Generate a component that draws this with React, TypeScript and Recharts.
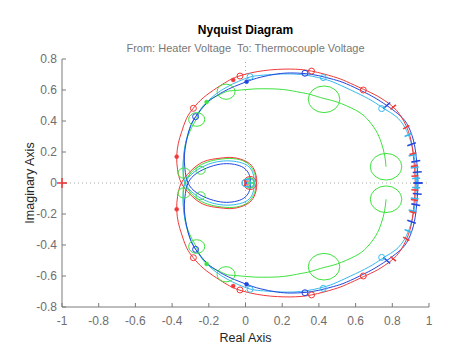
import { ComposedChart, Line, Scatter, XAxis, YAxis, ReferenceLine } from "recharts";

type Pt = { x: number; y: number };
type Blob = { x: number; y: number; r: number };

// Positive-frequency branch of each estimated model (Re, Im).
// The negative-frequency branch is its complex conjugate.
const redBranch: Pt[] = [
  { x: 0.925, y: 0 }, { x: 0.922, y: -0.085 }, { x: 0.915, y: -0.17 }, { x: 0.897, y: -0.3 },
  { x: 0.85, y: -0.425 }, { x: 0.795, y: -0.5 }, { x: 0.72, y: -0.56 }, { x: 0.642, y: -0.605 },
  { x: 0.55, y: -0.655 }, { x: 0.479, y: -0.686 }, { x: 0.36, y: -0.722 }, { x: 0.243, y: -0.735 },
  { x: 0.1, y: -0.725 }, { x: -0.03, y: -0.692 }, { x: -0.1, y: -0.655 }, { x: -0.157, y: -0.613 },
  { x: -0.23, y: -0.55 }, { x: -0.284, y: -0.483 }, { x: -0.322, y: -0.415 }, { x: -0.348, y: -0.33 },
  { x: -0.366, y: -0.256 }, { x: -0.375, y: -0.17 }, { x: -0.37, y: -0.085 }, { x: -0.35, y: 0 },
  { x: -0.302, y: 0.073 }, { x: -0.23, y: 0.137 }, { x: -0.139, y: 0.16 }, { x: -0.066, y: 0.164 },
  { x: 0.007, y: 0.137 }, { x: 0.048, y: 0.084 }, { x: 0.061, y: 0.01 }, { x: 0.045, y: -0.035 },
  { x: 0.015, y: -0.04 }, { x: -0.005, y: -0.02 }, { x: 0.002, y: 0.008 }, { x: 0.02, y: 0.012 },
];

const blueBranch: Pt[] = [
  { x: 0.94, y: 0 }, { x: 0.937, y: -0.085 }, { x: 0.93, y: -0.17 }, { x: 0.915, y: -0.277 },
  { x: 0.878, y: -0.385 }, { x: 0.83, y: -0.447 }, { x: 0.77, y: -0.5 }, { x: 0.7, y: -0.553 },
  { x: 0.64, y: -0.59 }, { x: 0.55, y: -0.64 }, { x: 0.48, y: -0.668 }, { x: 0.4, y: -0.692 },
  { x: 0.324, y: -0.706 }, { x: 0.245, y: -0.71 }, { x: 0.17, y: -0.703 }, { x: 0.08, y: -0.682 },
  { x: 0.006, y: -0.654 }, { x: -0.06, y: -0.623 }, { x: -0.121, y: -0.589 }, { x: -0.17, y: -0.553 },
  { x: -0.212, y: -0.514 }, { x: -0.272, y: -0.428 }, { x: -0.305, y: -0.35 }, { x: -0.322, y: -0.27 },
  { x: -0.333, y: -0.18 }, { x: -0.33, y: -0.09 }, { x: -0.313, y: 0 }, { x: -0.266, y: 0.063 },
  { x: -0.193, y: 0.105 }, { x: -0.12, y: 0.124 }, { x: -0.06, y: 0.12 }, { x: -0.012, y: 0.1 },
  { x: 0.018, y: 0.06 }, { x: 0.027, y: 0.01 }, { x: 0.02, y: -0.02 }, { x: 0.005, y: -0.02 },
  { x: -0.003, y: -0.005 }, { x: 0.008, y: 0.005 },
];

const cyanBranch: Pt[] = [
  { x: 0.932, y: 0 }, { x: 0.928, y: -0.09 }, { x: 0.918, y: -0.18 }, { x: 0.9, y: -0.27 },
  { x: 0.868, y: -0.36 }, { x: 0.82, y: -0.43 }, { x: 0.76, y: -0.476 }, { x: 0.69, y: -0.53 },
  { x: 0.6, y: -0.585 }, { x: 0.5, y: -0.64 }, { x: 0.424, y: -0.672 }, { x: 0.3, y: -0.7 },
  { x: 0.17, y: -0.702 }, { x: 0.08, y: -0.694 }, { x: 0.025, y: -0.684 }, { x: -0.04, y: -0.655 },
  { x: -0.1, y: -0.62 }, { x: -0.16, y: -0.575 }, { x: -0.212, y: -0.52 }, { x: -0.26, y: -0.45 },
  { x: -0.297, y: -0.37 }, { x: -0.322, y: -0.28 }, { x: -0.337, y: -0.18 }, { x: -0.34, y: -0.09 },
  { x: -0.328, y: 0 }, { x: -0.28, y: 0.07 }, { x: -0.2, y: 0.122 }, { x: -0.12, y: 0.142 },
  { x: -0.05, y: 0.138 }, { x: 0.01, y: 0.113 }, { x: 0.04, y: 0.065 }, { x: 0.047, y: 0.01 },
  { x: 0.035, y: -0.028 }, { x: 0.01, y: -0.03 }, { x: 0, y: -0.01 }, { x: 0.015, y: 0.005 },
];

const greenBranch: Pt[] = [
  { x: 0.766, y: -0.105 }, { x: 0.758, y: -0.18 }, { x: 0.74, y: -0.26 }, { x: 0.71, y: -0.34 },
  { x: 0.66, y: -0.417 }, { x: 0.6, y: -0.47 }, { x: 0.5, y: -0.522 }, { x: 0.428, y: -0.545 },
  { x: 0.351, y: -0.572 }, { x: 0.297, y: -0.585 }, { x: 0.206, y: -0.603 }, { x: 0.1, y: -0.608 },
  { x: 0.025, y: -0.605 }, { x: -0.066, y: -0.596 }, { x: -0.106, y: -0.589 }, { x: -0.16, y: -0.56 },
  { x: -0.212, y: -0.522 }, { x: -0.245, y: -0.472 }, { x: -0.266, y: -0.417 }, { x: -0.29, y: -0.365 },
  { x: -0.315, y: -0.3 }, { x: -0.33, y: -0.234 }, { x: -0.339, y: -0.127 }, { x: -0.34, y: -0.06 },
  { x: -0.332, y: 0 }, { x: -0.29, y: 0.075 }, { x: -0.22, y: 0.13 }, { x: -0.13, y: 0.155 },
  { x: -0.05, y: 0.155 }, { x: 0.01, y: 0.128 }, { x: 0.045, y: 0.075 }, { x: 0.055, y: 0.02 },
  { x: 0.04, y: -0.02 }, { x: 0.02, y: -0.02 },
];

// confidence regions of the green (spectral) estimate, radius in plot units
const greenRegions: Blob[] = [
  { x: 0.766, y: 0.105, r: 0.086 }, { x: 0.428, y: 0.54, r: 0.086 }, { x: -0.106, y: 0.589, r: 0.049 },
  { x: -0.266, y: 0.41, r: 0.044 }, { x: -0.335, y: 0.064, r: 0.033 }, { x: -0.245, y: 0.082, r: 0.025 },
  { x: 0.028, y: 0.015, r: 0.018 },
];
const cyanRegions: Blob[] = [{ x: 0.005, y: 0, r: 0.024 }];

// open circle markers on each curve (upper half)
const redRings: Pt[] = [{ x: 0.642, y: 0.6 }, { x: 0.36, y: 0.722 }, { x: -0.03, y: 0.69 }, { x: -0.284, y: 0.482 }];
const blueRings: Pt[] = [{ x: 0.324, y: 0.708 }, { x: -0.272, y: 0.428 }];
const cyanRings: Pt[] = [{ x: 0.424, y: 0.68 }, { x: 0.742, y: 0.48 }, { x: 0.025, y: 0.686 }];

// direction arrows (upper half)
const redArrows: Pt[] = [{ x: -0.067, y: 0.665 }, { x: -0.375, y: 0.17 }];
const blueArrows: Pt[] = [{ x: 0.006, y: 0.654 }];
const greenArrows: Pt[] = [{ x: -0.212, y: 0.522 }];

// thin uncertainty bars near the low-frequency end (upper half)
const blueBars: Pt[] = [{ x: 0.77, y: 0.5 }, { x: 0.905, y: 0.25 }, { x: 0.928, y: 0.14 }, { x: 0.936, y: 0.07 }, { x: 0.94, y: 0 }];
const redBars: Pt[] = [{ x: 0.805, y: 0.49 }, { x: 0.876, y: 0.36 }, { x: 0.912, y: 0.19 }, { x: 0.92, y: 0.11 }, { x: 0.923, y: 0.045 }];
const cyanBars: Pt[] = [{ x: 0.887, y: 0.31 }, { x: 0.91, y: 0.18 }, { x: 0.922, y: 0.1 }, { x: 0.93, y: 0.03 }];

const criticalPoint: Pt[] = [{ x: -1, y: 0 }];

const xTicks = [-1, -0.8, -0.6, -0.4, -0.2, 0, 0.2, 0.4, 0.6, 0.8, 1];
const yTicks = [-0.8, -0.6, -0.4, -0.2, 0, 0.2, 0.4, 0.6, 0.8];

const conj = (pts: Pt[]) => pts.map((p) => ({ ...p, y: -p.y }));
const both = <T extends Pt>(pts: T[]) => [...pts, ...pts.map((p) => ({ ...p, y: -p.y }))];

const RED = "#f03a3a";
const BLUE = "#2146e0";
const CYAN = "#35b8f0";
const GREEN = "#3ee23e";
const AXIS = "#7a7a7a";
const FONT = "'Liberation Sans', Arial, Helvetica, sans-serif";

const W = 458;
const H = 338;
const PLOT_W = 367;
const PLOT_H = 248;
const PX_X = PLOT_W / 2;
const PX_Y = PLOT_H / 1.6;

const fmt = (v: number) => String(Number(v.toFixed(1)));

const ring = (color: string) => (p: any) => (
  <circle cx={p.cx} cy={p.cy} r={3} fill="none" stroke={color} strokeWidth={1} />
);

const region = (color: string) => (p: any) => (
  <ellipse cx={p.cx} cy={p.cy} rx={p.payload.r * PX_X} ry={p.payload.r * PX_Y} fill="none" stroke={color} strokeWidth={1} />
);

const arrow = (color: string) => (p: any) => (
  <circle cx={p.cx} cy={p.cy} r={2} fill={color} stroke={color} strokeWidth={0.5} />
);

// short bar oriented across the curve (roughly radial from the loop centre)
const bar = (color: string, len: number) => (p: any) => {
  const nx = (p.payload.x - 0.3) * PX_X;
  const ny = -p.payload.y * PX_Y;
  const n = Math.hypot(nx, ny) || 1;
  const ux = ((nx / n) * len) / 2;
  const uy = ((ny / n) * len) / 2;
  return <line x1={p.cx - ux} y1={p.cy - uy} x2={p.cx + ux} y2={p.cy + uy} stroke={color} strokeWidth={1.6} />;
};

const plus = (p: any) => (
  <g stroke={RED} strokeWidth={1.5}>
    <line x1={p.cx - 5} y1={p.cy} x2={p.cx + 5} y2={p.cy} />
    <line x1={p.cx} y1={p.cy - 5} x2={p.cx} y2={p.cy + 5} />
  </g>
);

const curve = (key: string, data: Pt[], color: string) => (
  <Line
    key={key}
    data={data}
    dataKey="y"
    type="natural"
    stroke={color}
    strokeWidth={1}
    dot={false}
    activeDot={false}
    isAnimationActive={false}
  />
);

export default function App() {
  const tickStyle = { fill: "#6e6e6e", fontSize: 12, fontFamily: FONT };
  return (
    <div style={{ position: "relative", width: W, height: H, fontFamily: FONT }}>
      <div style={{ position: "absolute", left: 54, width: PLOT_W, top: 15, textAlign: "center", fontWeight: "bold", fontSize: 12, color: "#000", lineHeight: "14px" }}>
        Nyquist Diagram
      </div>
      <div style={{ position: "absolute", left: 54, width: PLOT_W, top: 34, textAlign: "center", fontSize: 11, color: "#777", whiteSpace: "pre", lineHeight: "13px" }}>
        {"From: Heater Voltage  To: Thermocouple Voltage"}
      </div>
      <div style={{ position: "absolute", left: 54, width: PLOT_W, top: 323, textAlign: "center", fontSize: 12.5, color: "#262626", lineHeight: "15px" }}>
        Real Axis
      </div>
      <div style={{ position: "absolute", left: -38, width: 120, top: 167, height: 16, textAlign: "center", fontSize: 12.5, color: "#262626", lineHeight: "16px", transform: "rotate(-90deg)" }}>
        Imaginary Axis
      </div>
      <ComposedChart width={W} height={H} margin={{ top: 51, right: 37, bottom: 9, left: 10 }}>
        <XAxis
          xAxisId={0}
          type="number"
          dataKey="x"
          domain={[-1, 1]}
          ticks={xTicks}
          tickFormatter={fmt}
          height={30}
          stroke={AXIS}
          tickSize={-4}
          tickMargin={13}
          tick={tickStyle}
          interval={0}
        />
        <XAxis xAxisId="top" orientation="top" type="number" domain={[-1, 1]} ticks={xTicks} tickFormatter={() => ""} height={0} stroke={AXIS} tickSize={-4} interval={0} />
        <YAxis
          yAxisId={0}
          type="number"
          dataKey="y"
          domain={[-0.8, 0.8]}
          ticks={yTicks}
          tickFormatter={fmt}
          width={44}
          stroke={AXIS}
          tickSize={-4}
          tickMargin={9}
          tick={tickStyle}
          interval={0}
        />
        <YAxis yAxisId="right" orientation="right" type="number" domain={[-0.8, 0.8]} ticks={yTicks} tickFormatter={() => ""} width={0} stroke={AXIS} tickSize={-4} interval={0} />
        <ReferenceLine x={0} stroke="#a8a8a8" strokeDasharray="1 3" />
        <ReferenceLine y={0} stroke="#a8a8a8" strokeDasharray="1 3" />

        {curve("g1", greenBranch, GREEN)}
        {curve("g2", conj(greenBranch), GREEN)}
        {curve("c1", cyanBranch, CYAN)}
        {curve("c2", conj(cyanBranch), CYAN)}
        {curve("b1", blueBranch, BLUE)}
        {curve("b2", conj(blueBranch), BLUE)}
        {curve("r1", redBranch, RED)}
        {curve("r2", conj(redBranch), RED)}

        <Scatter data={both(greenRegions)} shape={region(GREEN)} isAnimationActive={false} />
        <Scatter data={both(cyanRegions)} shape={region(CYAN)} isAnimationActive={false} />
        <Scatter data={both(cyanBars)} shape={bar(CYAN, 8)} isAnimationActive={false} />
        <Scatter data={both(redBars)} shape={bar(RED, 7)} isAnimationActive={false} />
        <Scatter data={both(blueBars)} shape={bar(BLUE, 9)} isAnimationActive={false} />
        <Scatter data={both(redRings)} shape={ring(RED)} isAnimationActive={false} />
        <Scatter data={both(blueRings)} shape={ring(BLUE)} isAnimationActive={false} />
        <Scatter data={both(cyanRings)} shape={ring(CYAN)} isAnimationActive={false} />
        <Scatter data={both(redArrows)} shape={arrow(RED)} isAnimationActive={false} />
        <Scatter data={both(blueArrows)} shape={arrow(BLUE)} isAnimationActive={false} />
        <Scatter data={both(greenArrows)} shape={arrow(GREEN)} isAnimationActive={false} />
        <Scatter data={criticalPoint} shape={plus} isAnimationActive={false} />
      </ComposedChart>
    </div>
  );
}
